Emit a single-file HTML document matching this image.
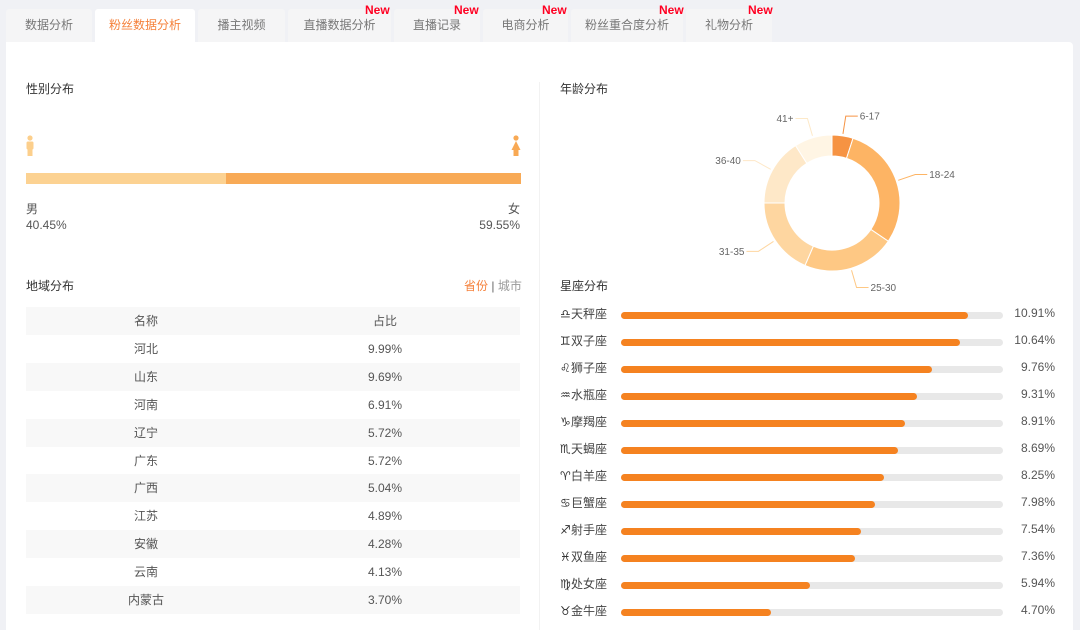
<!DOCTYPE html>
<html><head><meta charset="utf-8">
<style>
*{margin:0;padding:0;box-sizing:border-box}
body{width:1080px;height:630px;background:#f0f1f5;font-family:"Liberation Sans","Noto Sans CJK SC",sans-serif;position:relative;overflow:hidden;color:#333}
.tab{position:absolute;top:9px;height:33px;background:#f5f5f6;font-size:12px;color:#777;text-align:center;line-height:33px;border-radius:3px 3px 0 0}
.tab.active{background:#fff;color:#f5813b}
.new{position:absolute;top:3px;font-size:12px;font-weight:bold;color:#ff0022}
#panel{position:absolute;left:6px;top:42px;width:1067px;height:588px;background:#fff;border-radius:0 4px 0 0}
.title{position:absolute;font-size:12px;color:#333}
.abs{position:absolute}
.row{position:absolute;left:26px;width:494px;height:28px;font-size:12px;color:#555;line-height:28px}
.row span{position:absolute;text-align:center}
</style></head><body>
<div class="tab" style="left:6px;width:86px">数据分析</div>
<div class="tab active" style="left:95px;width:100px">粉丝数据分析</div>
<div class="tab" style="left:198px;width:87px">播主视频</div>
<div class="tab" style="left:288px;width:103px">直播数据分析</div>
<div class="tab" style="left:394px;width:86px">直播记录</div>
<div class="tab" style="left:483px;width:85px">电商分析</div>
<div class="tab" style="left:571px;width:112px">粉丝重合度分析</div>
<div class="tab" style="left:686px;width:86px">礼物分析</div>
<div class="new" style="left:365px">New</div>
<div class="new" style="left:454px">New</div>
<div class="new" style="left:542px">New</div>
<div class="new" style="left:659px">New</div>
<div class="new" style="left:748px">New</div>
<div id="panel"></div>
<div class="abs" style="left:539px;top:82px;width:1px;height:548px;background:#f2f2f2"></div>

<div class="title" style="left:26px;top:80px">性别分布</div>
<svg class="abs" style="left:24px;top:135px" width="12" height="22"><circle cx="6" cy="3" r="2.6" fill="#fccf8c"/><rect x="2.5" y="6.5" width="7" height="8" rx="1.5" fill="#fccf8c"/><rect x="3.5" y="13" width="5" height="8" fill="#fccf8c"/></svg>
<svg class="abs" style="left:510px;top:135px" width="12" height="22"><circle cx="6" cy="3" r="2.6" fill="#f8a954"/><path d="M6 6 L10.5 15 H1.5 Z" fill="#f8a954"/><rect x="3.5" y="14" width="5" height="7" fill="#f8a954"/></svg>
<div id="genderbar" class="abs" style="left:26px;top:173px;width:495px;height:11px"></div>
<div class="abs" style="left:26px;top:201px;font-size:12px;color:#555;line-height:16px">男<br><span id="malePct">40.45%</span></div>
<div class="abs" style="left:420px;width:100px;text-align:right;top:201px;font-size:12px;color:#555;line-height:16px">女<br><span id="femalePct">59.55%</span></div>

<div class="title" style="left:26px;top:277px">地域分布</div>
<div class="abs" style="left:464px;top:277px;font-size:12px;color:#999"><span style="color:#f5813b">省份</span> <span style="color:#666">|</span> <span>城市</span></div>
<div id="table"></div>

<div class="title" style="left:560px;top:80px">年龄分布</div>
<svg id="donut" class="abs" style="left:700px;top:90px" width="260" height="210"></svg>

<div class="title" style="left:560px;top:277px">星座分布</div>
<div id="zodiac"></div>

<script>
const genderLabels=["男","女"];
const genderValues=[40.45,59.55];
const regionNames=["河北","山东","河南","辽宁","广东","广西","江苏","安徽","云南","内蒙古"];
const regionValues=[9.99,9.69,6.91,5.72,5.72,5.04,4.89,4.28,4.13,3.70];
const ageLabels=["6-17","18-24","25-30","31-35","36-40","41+"];
const ageValues=[5,29.5,22,18.5,16,9];
const zodiacNames=["天秤座","双子座","狮子座","水瓶座","摩羯座","天蝎座","白羊座","巨蟹座","射手座","双鱼座","处女座","金牛座"];
const zodiacSymbols=["♎","♊","♌","♒","♑","♏","♈","♋","♐","♓","♍","♉"];
const zodiacValues=[10.91,10.64,9.76,9.31,8.91,8.69,8.25,7.98,7.54,7.36,5.94,4.70];

const gb=document.getElementById('genderbar');
const gTot=genderValues[0]+genderValues[1];
const gcols=["#fcd292","#f8aa56"];
let gx=0;
genderValues.forEach((v,i)=>{
  const d=document.createElement('div');
  
  
  const w=v/gTot*495;
  d.style.cssText=`position:absolute;left:${gx}px;top:0;width:${w}px;height:11px;background:${gcols[i]}`;
  gx+=w;gb.appendChild(d);
});
document.getElementById('malePct').textContent=genderValues[0].toFixed(2)+'%';
document.getElementById('femalePct').textContent=genderValues[1].toFixed(2)+'%';

const tb=document.getElementById('table');
function addRow(name,val,i,header){
  const r=document.createElement('div');
  r.className='row';
  
  
  r.style.top=(307+i*27.9)+'px';
  r.style.background=(i%2===0)?'#f8f8f8':'#fff';
  r.innerHTML=`<span style="left:0;width:240px">${name}</span><span style="left:240px;width:238px">${val}</span>`;
  tb.appendChild(r);
}
addRow('名称','占比',0,true);
regionNames.forEach((n,i)=>addRow(n,regionValues[i].toFixed(2)+'%',i+1,false));

const svg=document.getElementById('donut');
const NS='http://www.w3.org/2000/svg';
const cx=132,cy=113,R=68,r=47;
const acols=["#f69343","#fdb464","#fec884","#fed6a0","#fee8c8","#fff5e4"];
const aTot=ageValues.reduce((a,b)=>a+b,0);
let a0=0;
function pt(a,rad){return [cx+rad*Math.sin(a),cy-rad*Math.cos(a)];}
ageValues.forEach((v,i)=>{
  const a1=a0+v/aTot*2*Math.PI;
  const large=(a1-a0)>Math.PI?1:0;
  const p1=pt(a0,R),p2=pt(a1,R),p3=pt(a1,r),p4=pt(a0,r);
  const p=document.createElementNS(NS,'path');
  p.setAttribute('d',`M${p1} A${R},${R} 0 ${large} 1 ${p2} L${p3} A${r},${r} 0 ${large} 0 ${p4}Z`);
  p.setAttribute('fill',acols[i]);p.setAttribute('stroke','#fff');p.setAttribute('stroke-width','1');
  
  
  svg.appendChild(p);
  const am=(a0+a1)/2;
  const s=pt(am,R+2),e=pt(am,R+20);
  const right=Math.sin(am)>=0;
  const ex=e[0]+(right?12:-12);
  const l=document.createElementNS(NS,'polyline');
  l.setAttribute('points',`${s} ${e} ${ex},${e[1]}`);
  l.setAttribute('fill','none');l.setAttribute('stroke',acols[i]==="#fff5e4"?"#fde9c8":acols[i]);
  
  
  svg.appendChild(l);
  const t=document.createElementNS(NS,'text');
  t.setAttribute('x',right?ex+2:ex-2);t.setAttribute('y',e[1]+3.5);
  t.setAttribute('text-anchor',right?'start':'end');
  t.setAttribute('font-size','10');t.setAttribute('fill','#666');
  t.setAttribute('font-family','Liberation Sans, sans-serif');
  t.textContent=ageLabels[i];
  
  
  svg.appendChild(t);
  a0=a1;
});

const zd=document.getElementById('zodiac');
const zMax=12, trackX=621, trackW=382;
function xz(v){return v/zMax*trackW;}
zodiacNames.forEach((n,i)=>{
  const y=315+i*27;
  const lab=document.createElement('div');
  
  
  lab.style.cssText=`position:absolute;left:560px;top:${y-10}px;font-size:12px;color:#444;line-height:18px`;
  lab.innerHTML=`<span style="font-family:'DejaVu Sans',sans-serif;font-size:12px;font-weight:bold;color:#333;display:inline-block;width:11px">${zodiacSymbols[i]}</span>${n}`;
  zd.appendChild(lab);
  const tr=document.createElement('div');
  
  
  tr.style.cssText=`position:absolute;left:${trackX}px;top:${y-3.5}px;width:${trackW}px;height:7px;background:#e8e8e8;border-radius:4px`;
  zd.appendChild(tr);
  const b=document.createElement('div');
  
  
  b.style.cssText=`position:absolute;left:${trackX}px;top:${y-3.5}px;width:${xz(zodiacValues[i])}px;height:7px;background:#f58220;border-radius:4px`;
  zd.appendChild(b);
  const v=document.createElement('div');
  
  
  v.style.cssText=`position:absolute;left:990px;width:65px;text-align:right;top:${y-9}px;font-size:12px;color:#555`;
  v.textContent=zodiacValues[i].toFixed(2)+'%';
  zd.appendChild(v);
});
</script>
</body></html>
